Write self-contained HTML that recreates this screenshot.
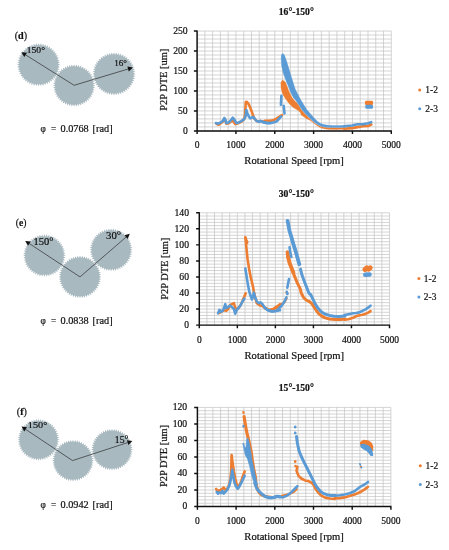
<!DOCTYPE html><html><head><meta charset="utf-8"><title>Figure</title><style>html,body{margin:0;padding:0;background:#fff}svg{display:block}text{stroke:#111;stroke-width:0.2px}</style></head><body><svg width="449" height="550" viewBox="0 0 449 550" font-family="'Liberation Serif', serif" fill="#111">
<rect width="449" height="550" fill="#fff"/>
<path d="M197.10 130.90H391.30M197.10 126.91H391.30M197.10 122.91H391.30M197.10 118.92H391.30M197.10 114.92H391.30M197.10 110.93H391.30M197.10 106.94H391.30M197.10 102.94H391.30M197.10 98.95H391.30M197.10 94.95H391.30M197.10 90.96H391.30M197.10 86.97H391.30M197.10 82.97H391.30M197.10 78.98H391.30M197.10 74.98H391.30M197.10 70.99H391.30M197.10 67.00H391.30M197.10 63.00H391.30M197.10 59.01H391.30M197.10 55.01H391.30M197.10 51.02H391.30M197.10 47.03H391.30M197.10 43.03H391.30M197.10 39.04H391.30M197.10 35.04H391.30M197.10 31.05H391.30M197.10 31.05V130.90M204.87 31.05V130.90M212.64 31.05V130.90M220.40 31.05V130.90M228.17 31.05V130.90M235.94 31.05V130.90M243.71 31.05V130.90M251.48 31.05V130.90M259.24 31.05V130.90M267.01 31.05V130.90M274.78 31.05V130.90M282.55 31.05V130.90M290.32 31.05V130.90M298.08 31.05V130.90M305.85 31.05V130.90M313.62 31.05V130.90M321.39 31.05V130.90M329.16 31.05V130.90M336.92 31.05V130.90M344.69 31.05V130.90M352.46 31.05V130.90M360.23 31.05V130.90M368.00 31.05V130.90M375.76 31.05V130.90M383.53 31.05V130.90M391.30 31.05V130.90" stroke="#c6c6c6" stroke-width="0.75" fill="none"/>
<path d="M199.30 325.10H389.50M199.30 321.89H389.50M199.30 318.68H389.50M199.30 315.47H389.50M199.30 312.27H389.50M199.30 309.06H389.50M199.30 305.85H389.50M199.30 302.64H389.50M199.30 299.43H389.50M199.30 296.22H389.50M199.30 293.01H389.50M199.30 289.81H389.50M199.30 286.60H389.50M199.30 283.39H389.50M199.30 280.18H389.50M199.30 276.97H389.50M199.30 273.76H389.50M199.30 270.55H389.50M199.30 267.35H389.50M199.30 264.14H389.50M199.30 260.93H389.50M199.30 257.72H389.50M199.30 254.51H389.50M199.30 251.30H389.50M199.30 248.09H389.50M199.30 244.89H389.50M199.30 241.68H389.50M199.30 238.47H389.50M199.30 235.26H389.50M199.30 232.05H389.50M199.30 228.84H389.50M199.30 225.63H389.50M199.30 222.43H389.50M199.30 219.22H389.50M199.30 216.01H389.50M199.30 212.80H389.50M199.30 212.80V325.10M206.91 212.80V325.10M214.52 212.80V325.10M222.12 212.80V325.10M229.73 212.80V325.10M237.34 212.80V325.10M244.95 212.80V325.10M252.56 212.80V325.10M260.16 212.80V325.10M267.77 212.80V325.10M275.38 212.80V325.10M282.99 212.80V325.10M290.60 212.80V325.10M298.20 212.80V325.10M305.81 212.80V325.10M313.42 212.80V325.10M321.03 212.80V325.10M328.64 212.80V325.10M336.24 212.80V325.10M343.85 212.80V325.10M351.46 212.80V325.10M359.07 212.80V325.10M366.68 212.80V325.10M374.28 212.80V325.10M381.89 212.80V325.10M389.50 212.80V325.10" stroke="#c6c6c6" stroke-width="0.75" fill="none"/>
<path d="M197.40 506.50H390.90M197.40 503.20H390.90M197.40 499.89H390.90M197.40 496.59H390.90M197.40 493.29H390.90M197.40 489.98H390.90M197.40 486.68H390.90M197.40 483.38H390.90M197.40 480.07H390.90M197.40 476.77H390.90M197.40 473.47H390.90M197.40 470.16H390.90M197.40 466.86H390.90M197.40 463.56H390.90M197.40 460.25H390.90M197.40 456.95H390.90M197.40 453.65H390.90M197.40 450.34H390.90M197.40 447.04H390.90M197.40 443.74H390.90M197.40 440.43H390.90M197.40 437.13H390.90M197.40 433.83H390.90M197.40 430.52H390.90M197.40 427.22H390.90M197.40 423.92H390.90M197.40 420.61H390.90M197.40 417.31H390.90M197.40 414.01H390.90M197.40 410.70H390.90M197.40 407.40H390.90M197.40 407.40V506.50M205.14 407.40V506.50M212.88 407.40V506.50M220.62 407.40V506.50M228.36 407.40V506.50M236.10 407.40V506.50M243.84 407.40V506.50M251.58 407.40V506.50M259.32 407.40V506.50M267.06 407.40V506.50M274.80 407.40V506.50M282.54 407.40V506.50M290.28 407.40V506.50M298.02 407.40V506.50M305.76 407.40V506.50M313.50 407.40V506.50M321.24 407.40V506.50M328.98 407.40V506.50M336.72 407.40V506.50M344.46 407.40V506.50M352.20 407.40V506.50M359.94 407.40V506.50M367.68 407.40V506.50M375.42 407.40V506.50M383.16 407.40V506.50M390.90 407.40V506.50" stroke="#c6c6c6" stroke-width="0.75" fill="none"/>
<!--DATA-->
<polyline points="216.7,124.1 218.7,124.7 220.7,123.3 222.7,121.7 224.3,118.8 225.4,120.7 226.3,123.7 228.7,123.3 230.7,121.5 232.7,120.4 234.1,122.4 235.4,124.1 236.7,123.7 238.7,123.1 241.4,121.7 244.1,119.3 245.0,115.1 245.4,108.4 245.8,102.0 246.8,101.7 248.1,103.3 249.2,105.4 250.1,107.3 251.2,110.0 252.1,112.6 253.4,116.4 254.8,119.1 256.8,121.1 258.8,121.7 260.8,121.1 263.5,121.5 266.1,121.2 270.0,121.1" fill="none" stroke="#ED7D31" stroke-width="2.60" stroke-linecap="round" stroke-linejoin="round"/>
<polyline points="264.9,120.8 269.8,120.9 273.1,120.3 276.4,118.6 279.6,116.7 282.1,115.0" fill="none" stroke="#ED7D31" stroke-width="2.60" stroke-linecap="round" stroke-linejoin="round"/>
<polygon points="282.3,79.9 280.8,82.8 281.1,88.6 282.3,93.0 283.7,95.9 286.6,100.3 289.5,103.9 293.2,107.5 298.3,110.6 300.6,112.8 301.1,115.0 303.9,116.7 306.1,118.4 309.5,120.1 312.8,122.3 316.2,125.1 319.5,127.3 322.8,128.4 327.3,129.2 334.0,129.5 345.0,129.3 344.6,127.5 339.1,127.8 331.3,127.8 325.8,127.5 321.3,126.7 318.0,125.3 314.6,123.0 311.3,120.3 308.0,116.9 304.6,113.6 301.3,109.7 297.9,104.1 293.9,99.9 292.1,97.8 289.2,91.9 287.0,86.1 285.2,81.8" fill="#ED7D31" stroke="#ED7D31" stroke-width="0.30" stroke-linejoin="round"/>
<polyline points="344.1,128.7 352.1,128.1 357.4,127.1 362.8,126.3 368.1,126.0 371.3,124.6" fill="none" stroke="#ED7D31" stroke-width="2.60" stroke-linecap="round" stroke-linejoin="round"/>
<rect x="365" y="100.7" width="8" height="4.3" rx="1.3" fill="#ED7D31"/>
<polyline points="216.0,123.1 218.0,123.7 220.7,122.4 222.7,121.1 224.3,118.0 225.4,119.7 226.3,123.1 228.7,122.4 230.7,120.4 232.7,117.7 234.1,119.1 235.4,121.7 236.7,123.1 238.7,122.4 241.4,121.1 244.1,119.1 245.4,117.1 246.1,112.4 246.4,110.0 247.2,113.0 248.8,116.4 250.1,118.4 252.1,117.5 253.4,117.1 254.8,119.1 256.8,121.1 258.8,121.7 260.8,121.1 263.5,122.4 266.1,123.1 270.0,123.3" fill="none" stroke="#5B9BD5" stroke-width="2.60" stroke-linecap="round" stroke-linejoin="round"/>
<polyline points="260.0,121.1 263.3,121.9 266.5,122.7 271.5,122.9 276.4,121.6 278.8,119.0 281.3,116.4" fill="none" stroke="#5B9BD5" stroke-width="2.60" stroke-linecap="round" stroke-linejoin="round"/>
<polyline points="281.4,95.7 280.9,104.7" fill="none" stroke="#5B9BD5" stroke-width="2.60" stroke-linecap="round" stroke-linejoin="round"/>
<polyline points="283.7,105.9 284.5,113.4" fill="none" stroke="#5B9BD5" stroke-width="2.60" stroke-linecap="round" stroke-linejoin="round"/>
<polygon points="283.0,53.4 284.5,55.2 286.6,61.0 288.8,68.3 291.0,75.5 293.2,82.8 295.4,89.4 300.6,99.5 303.9,105.0 307.2,110.0 310.6,113.9 313.9,117.8 317.3,121.2 320.6,123.4 324.0,124.5 328.4,125.3 334.0,125.6 339.5,125.6 345.0,125.3 345.0,127.3 339.5,127.6 331.7,127.6 326.2,127.3 321.7,126.5 318.4,125.1 315.0,122.8 311.7,120.1 308.4,116.7 305.0,113.4 301.7,109.5 298.3,103.9 295.0,99.5 293.2,97.4 290.3,91.5 288.1,85.7 286.3,81.4 284.9,77.7 283.0,72.6 281.5,65.4 281.1,58.1 281.5,54.5" fill="#5B9BD5" stroke="#5B9BD5" stroke-width="0.30" stroke-linejoin="round"/>
<polyline points="344.1,126.3 352.1,125.5 357.4,124.2 362.8,124.2 368.1,123.3 371.2,122.2" fill="none" stroke="#5B9BD5" stroke-width="2.60" stroke-linecap="round" stroke-linejoin="round"/>
<rect x="365.3" y="104.7" width="7.7" height="4" rx="1.3" fill="#5B9BD5"/>
<polyline points="218.6,313.2 221.5,311.8 223.7,309.9 226.2,310.9 228.1,309.0 230.0,305.2 231.9,304.2 233.9,303.2 234.8,306.1 235.8,309.0 237.7,309.0 240.5,305.2 242.4,301.3 244.4,296.6 245.7,293.3" fill="none" stroke="#ED7D31" stroke-width="2.60" stroke-linecap="round" stroke-linejoin="round"/>
<polyline points="245.3,237.4 246.3,240.3 247.2,242.6" fill="none" stroke="#ED7D31" stroke-width="2.80" stroke-linecap="round" stroke-linejoin="round"/>
<polyline points="245.5,238.0 246.6,249.8 247.6,259.4 249.1,268.9 251.0,278.4 252.9,286.1 253.9,291.8 255.4,298.5 256.8,303.2 259.6,305.2 262.5,306.1 265.3,308.6 269.2,309.9 273.0,309.0 276.8,306.7 280.0,304.2" fill="none" stroke="#ED7D31" stroke-width="2.60" stroke-linecap="round" stroke-linejoin="round"/>
<polyline points="265.0,307.5 269.4,310.4 273.7,309.3 277.0,307.1 279.2,306.0 282.5,303.8 284.6,301.6 286.4,298.4" fill="none" stroke="#ED7D31" stroke-width="2.60" stroke-linecap="round" stroke-linejoin="round"/>
<polyline points="286.8,292.5 287.0,293.4" fill="none" stroke="#ED7D31" stroke-width="2.60" stroke-linecap="round" stroke-linejoin="round"/>
<polyline points="287.3,252.1 288.0,257.2 289.5,263.0 291.3,268.1 293.1,272.5 294.5,276.1 297.5,283.4 300.4,289.2 301.1,292.8 303.4,297.2 306.1,300.0 309.5,301.7 311.7,303.4 313.4,306.2 315.6,309.5 318.4,313.4 321.7,316.2 325.1,317.9 329.5,319.0 335.1,319.5 340.7,319.5 345.0,319.0" fill="none" stroke="#ED7D31" stroke-width="3.00" stroke-linecap="round" stroke-linejoin="round"/>
<polyline points="287.6,252.5 288.1,257.2 289.6,263.0 291.6,268.1 293.4,272.5" fill="none" stroke="#ED7D31" stroke-width="3.80" stroke-linecap="round" stroke-linejoin="round"/>
<polyline points="344.5,319.7 348.4,319.2 352.3,318.1 355.4,316.6 358.5,315.5 362.4,314.7 365.5,313.9 368.7,312.4 370.5,311.1" fill="none" stroke="#ED7D31" stroke-width="2.60" stroke-linecap="round" stroke-linejoin="round"/>
<polyline points="364.9,269.5 366.8,267.9 368.7,269.2 370.2,267.8" fill="none" stroke="#ED7D31" stroke-width="5.00" stroke-linecap="round" stroke-linejoin="round"/>
<polyline points="218.0,313.2 219.5,309.9 221.1,311.8 222.4,310.9 223.7,309.0 225.3,304.2 226.2,308.0 228.1,307.1 230.0,305.5 231.9,307.1 233.9,309.0 235.2,313.7 236.7,309.9 238.6,308.0 240.5,305.5 242.4,301.7 244.4,298.5" fill="none" stroke="#5B9BD5" stroke-width="2.60" stroke-linecap="round" stroke-linejoin="round"/>
<polyline points="245.3,268.5 246.3,274.6 247.2,280.3 248.2,286.1 249.1,290.8 250.5,295.6 252.0,299.4 252.9,296.6 253.9,292.7 254.8,296.6 256.8,301.3 258.7,303.2 260.6,302.3 262.5,304.2 264.4,307.1 267.3,309.9 271.1,311.3 274.9,311.3 280.0,310.3" fill="none" stroke="#5B9BD5" stroke-width="2.60" stroke-linecap="round" stroke-linejoin="round"/>
<polyline points="265.0,308.2 268.3,310.4 272.6,311.5 277.0,310.4 281.4,306.0 284.6,301.6 286.4,297.3" fill="none" stroke="#5B9BD5" stroke-width="2.60" stroke-linecap="round" stroke-linejoin="round"/>
<polyline points="286.8,291.8 287.5,294.0" fill="none" stroke="#5B9BD5" stroke-width="2.60" stroke-linecap="round" stroke-linejoin="round"/>
<polyline points="289.0,279.0 288.1,283.4 287.3,287.7" fill="none" stroke="#5B9BD5" stroke-width="2.60" stroke-linecap="round" stroke-linejoin="round"/>
<polyline points="289.6,247.3 290.2,252.1 291.3,256.9" fill="none" stroke="#5B9BD5" stroke-width="2.60" stroke-linecap="round" stroke-linejoin="round"/>
<polyline points="287.6,220.8 288.4,225.2 289.5,231.0 291.3,236.8 293.4,244.1 295.7,251.4 297.7,258.6 299.3,264.2" fill="none" stroke="#5B9BD5" stroke-width="3.80" stroke-linecap="round" stroke-linejoin="round"/>
<polyline points="300.5,269.1 301.8,274.6 304.0,280.5 306.2,286.3 309.1,293.5 310.6,294.5 312.8,298.9 315.0,303.4 317.3,307.3 320.1,310.6 322.8,312.8 326.2,314.5 329.5,315.4 334.0,316.2 339.5,316.4 345.0,316.0" fill="none" stroke="#5B9BD5" stroke-width="3.00" stroke-linecap="round" stroke-linejoin="round"/>
<polyline points="344.5,315.0 348.4,314.2 353.1,313.2 356.2,313.0 359.3,312.4 362.4,310.8 365.5,309.3 368.7,307.2 370.5,305.7" fill="none" stroke="#5B9BD5" stroke-width="2.60" stroke-linecap="round" stroke-linejoin="round"/>
<polyline points="365.2,274.8 369.6,274.5" fill="none" stroke="#5B9BD5" stroke-width="4.40" stroke-linecap="round" stroke-linejoin="round"/>
<polyline points="216.1,489.0 217.6,490.9 220.5,489.9 222.4,489.0 223.7,487.4 225.3,489.9 227.2,489.0 229.1,484.8 230.4,479.0 231.2,470.8 231.6,455.0 232.5,462.3 233.9,471.8 235.2,478.5 236.7,484.2 238.2,488.0 239.6,485.2 241.5,480.4 243.4,474.7 244.7,471.4" fill="none" stroke="#ED7D31" stroke-width="2.60" stroke-linecap="round" stroke-linejoin="round"/>
<polyline points="243.4,412.3 243.5,412.9" fill="none" stroke="#ED7D31" stroke-width="2.40" stroke-linecap="round" stroke-linejoin="round"/>
<polyline points="244.1,416.6 245.0,422.5 246.0,428.3 247.2,434.1 248.3,438.5 249.6,444.3 251.1,451.5 252.3,460.3 253.7,469.0 255.5,477.7 255.8,484.2 257.7,489.9 259.6,492.8 261.5,494.7 264.4,496.2" fill="none" stroke="#ED7D31" stroke-width="3.20" stroke-linecap="round" stroke-linejoin="round"/>
<polyline points="265.0,496.2 272.6,497.4 281.2,496.2 286.0,495.1 289.8,493.7 293.6,491.8 296.5,489.0" fill="none" stroke="#ED7D31" stroke-width="2.60" stroke-linecap="round" stroke-linejoin="round"/>
<polyline points="295.2,461.3 295.2,461.7" fill="none" stroke="#ED7D31" stroke-width="2.60" stroke-linecap="round" stroke-linejoin="round"/>
<polyline points="295.5,466.1 297.4,467.0 296.5,470.8 298.4,475.6 301.3,478.5 305.1,480.4 308.9,481.3 311.8,482.9 313.7,485.2 315.6,489.0 318.4,492.8 321.3,495.6 325.1,497.6 329.9,498.5 335.0,498.9" fill="none" stroke="#ED7D31" stroke-width="2.60" stroke-linecap="round" stroke-linejoin="round"/>
<polyline points="334.8,498.2 339.7,498.1 344.6,497.4 349.5,496.1 354.5,494.5 357.7,493.2 361.0,491.7 364.3,489.6 366.7,487.9 368.0,486.8" fill="none" stroke="#ED7D31" stroke-width="2.60" stroke-linecap="round" stroke-linejoin="round"/>
<polygon points="360.7,442.6 363.5,440.6 367.6,440.9 370.8,442.9 372.5,446.2 372.5,450.3 369.2,447.0 364.3,445.4 361.0,445.4" fill="#ED7D31" stroke="#ED7D31" stroke-width="1.50" stroke-linejoin="round"/>
<polyline points="361.0,466.6 361.2,467.0" fill="none" stroke="#ED7D31" stroke-width="1.80" stroke-linecap="round" stroke-linejoin="round"/>
<polyline points="216.7,491.8 218.0,493.7 219.5,492.4 221.1,493.2 222.4,490.9 223.7,493.7 225.3,491.8 227.2,489.9 229.1,486.1 230.6,480.4 231.6,474.7 232.3,469.9 233.3,476.6 234.4,482.3 235.8,486.1 237.7,488.6 239.6,486.1 241.5,482.3 243.4,478.5 244.7,475.6" fill="none" stroke="#5B9BD5" stroke-width="2.60" stroke-linecap="round" stroke-linejoin="round"/>
<polyline points="243.4,426.1 243.5,426.4" fill="none" stroke="#5B9BD5" stroke-width="2.40" stroke-linecap="round" stroke-linejoin="round"/>
<polygon points="242.8,443.5 243.8,448.6 245.3,455.2 247.5,459.1 249.6,466.1 251.5,474.8 253.3,480.6 254.7,485.0 257.6,485.0 255.9,477.7 254.0,469.0 252.1,460.3 250.8,451.5 249.3,442.8 248.0,438.2 246.7,438.7 246.3,442.8 246.0,447.9 244.5,446.5 243.8,443.1" fill="#5B9BD5" stroke="#5B9BD5" stroke-width="0.60" stroke-linejoin="round"/>
<polyline points="254.8,483.2 255.8,486.1 257.1,489.0 259.0,491.3 261.0,493.2 263.8,495.6 266.7,497.2 270.5,497.9 274.3,497.6 277.2,496.2 280.0,496.6" fill="none" stroke="#5B9BD5" stroke-width="3.00" stroke-linecap="round" stroke-linejoin="round"/>
<polyline points="265.0,496.2 268.8,497.2 272.6,497.4 276.5,496.2 279.3,497.2 283.1,497.2 286.9,495.6 290.8,492.8 294.6,489.0 297.4,486.1" fill="none" stroke="#5B9BD5" stroke-width="2.60" stroke-linecap="round" stroke-linejoin="round"/>
<polyline points="295.2,426.9 295.2,427.3" fill="none" stroke="#5B9BD5" stroke-width="2.60" stroke-linecap="round" stroke-linejoin="round"/>
<polyline points="295.2,432.7 295.3,433.1" fill="none" stroke="#5B9BD5" stroke-width="2.60" stroke-linecap="round" stroke-linejoin="round"/>
<polyline points="296.5,436.5 297.4,443.2 299.0,450.8 301.3,456.5 304.1,462.3 307.0,468.0 309.8,473.7 312.7,479.4 315.0,484.2 317.5,488.0 320.3,491.3 323.2,493.4 327.0,494.7 330.8,495.5 335.0,495.6" fill="none" stroke="#5B9BD5" stroke-width="3.00" stroke-linecap="round" stroke-linejoin="round"/>
<polyline points="334.8,495.6 339.7,495.3 344.6,494.5 349.5,493.3 354.5,491.2 357.7,488.7 361.0,486.3 364.3,484.6 366.7,483.0 368.0,481.9" fill="none" stroke="#5B9BD5" stroke-width="2.60" stroke-linecap="round" stroke-linejoin="round"/>
<polygon points="361.0,444.9 363.5,444.5 366.7,445.4 369.2,447.0 371.6,450.3 372.5,455.2 370.8,455.2 369.2,452.7 366.7,450.3 363.5,448.6 361.3,447.0" fill="#5B9BD5" stroke="#5B9BD5" stroke-width="1.50" stroke-linejoin="round"/>
<polyline points="359.9,463.9 360.4,465.0" fill="none" stroke="#5B9BD5" stroke-width="1.80" stroke-linecap="round" stroke-linejoin="round"/>
<polyline points="361.3,467.5 361.4,467.7" fill="none" stroke="#5B9BD5" stroke-width="1.80" stroke-linecap="round" stroke-linejoin="round"/>
<path d="M197.10 30.45V131.50M196.50 130.90H391.90M193.90 130.90H197.10M193.90 110.93H197.10M193.90 90.96H197.10M193.90 70.99H197.10M193.90 51.02H197.10M193.90 31.05H197.10M197.10 130.90V134.10M235.94 130.90V134.10M274.78 130.90V134.10M313.62 130.90V134.10M352.46 130.90V134.10M391.30 130.90V134.10" stroke="#111" stroke-width="1.45" fill="none"/>
<text x="187.7" y="134.0" font-size="9.50" text-anchor="end" font-weight="normal">0</text>
<text x="187.7" y="114.0" font-size="9.50" text-anchor="end" font-weight="normal" textLength="9.7" lengthAdjust="spacingAndGlyphs">50</text>
<text x="187.7" y="94.1" font-size="9.50" text-anchor="end" font-weight="normal" textLength="14.5" lengthAdjust="spacingAndGlyphs">100</text>
<text x="187.7" y="74.1" font-size="9.50" text-anchor="end" font-weight="normal" textLength="14.5" lengthAdjust="spacingAndGlyphs">150</text>
<text x="187.7" y="54.1" font-size="9.50" text-anchor="end" font-weight="normal" textLength="14.5" lengthAdjust="spacingAndGlyphs">200</text>
<text x="187.7" y="34.1" font-size="9.50" text-anchor="end" font-weight="normal" textLength="14.5" lengthAdjust="spacingAndGlyphs">250</text>
<text x="197.1" y="148.1" font-size="9.50" text-anchor="middle" font-weight="normal">0</text>
<text x="235.9" y="148.1" font-size="9.50" text-anchor="middle" font-weight="normal" textLength="19.1" lengthAdjust="spacingAndGlyphs">1000</text>
<text x="274.8" y="148.1" font-size="9.50" text-anchor="middle" font-weight="normal" textLength="19.1" lengthAdjust="spacingAndGlyphs">2000</text>
<text x="313.6" y="148.1" font-size="9.50" text-anchor="middle" font-weight="normal" textLength="19.1" lengthAdjust="spacingAndGlyphs">3000</text>
<text x="352.5" y="148.1" font-size="9.50" text-anchor="middle" font-weight="normal" textLength="19.1" lengthAdjust="spacingAndGlyphs">4000</text>
<text x="391.3" y="148.1" font-size="9.50" text-anchor="middle" font-weight="normal" textLength="19.1" lengthAdjust="spacingAndGlyphs">5000</text>
<text x="294.1" y="164.0" font-size="9.50" text-anchor="middle" font-weight="normal" textLength="99.5" lengthAdjust="spacingAndGlyphs">Rotational Speed [rpm]</text>
<text transform="translate(167.1 79.8) rotate(-90)" font-size="9.5" text-anchor="middle" textLength="62" lengthAdjust="spacingAndGlyphs">P2P DTE [um]</text>
<text x="296.3" y="15.3" font-size="9.60" text-anchor="middle" font-weight="bold" textLength="35.0" lengthAdjust="spacingAndGlyphs">16°-150°</text>
<circle cx="419.7" cy="90.0" r="1.5" fill="#ED7D31"/>
<circle cx="419.7" cy="108.7" r="1.5" fill="#5B9BD5"/>
<text x="425.3" y="93.1" font-size="9.50" text-anchor="start" font-weight="normal" textLength="12.6" lengthAdjust="spacingAndGlyphs">1-2</text>
<text x="425.3" y="111.8" font-size="9.50" text-anchor="start" font-weight="normal" textLength="12.6" lengthAdjust="spacingAndGlyphs">2-3</text>
<path d="M199.30 212.20V325.70M198.70 325.10H390.10M196.10 325.10H199.30M196.10 309.06H199.30M196.10 293.01H199.30M196.10 276.97H199.30M196.10 260.93H199.30M196.10 244.89H199.30M196.10 228.84H199.30M196.10 212.80H199.30M199.30 325.10V328.30M237.34 325.10V328.30M275.38 325.10V328.30M313.42 325.10V328.30M351.46 325.10V328.30M389.50 325.10V328.30" stroke="#111" stroke-width="1.45" fill="none"/>
<text x="189.0" y="328.2" font-size="9.50" text-anchor="end" font-weight="normal">0</text>
<text x="189.0" y="312.2" font-size="9.50" text-anchor="end" font-weight="normal" textLength="9.7" lengthAdjust="spacingAndGlyphs">20</text>
<text x="189.0" y="296.1" font-size="9.50" text-anchor="end" font-weight="normal" textLength="9.7" lengthAdjust="spacingAndGlyphs">40</text>
<text x="189.0" y="280.1" font-size="9.50" text-anchor="end" font-weight="normal" textLength="9.7" lengthAdjust="spacingAndGlyphs">60</text>
<text x="189.0" y="264.0" font-size="9.50" text-anchor="end" font-weight="normal" textLength="9.7" lengthAdjust="spacingAndGlyphs">80</text>
<text x="189.0" y="248.0" font-size="9.50" text-anchor="end" font-weight="normal" textLength="14.5" lengthAdjust="spacingAndGlyphs">100</text>
<text x="189.0" y="231.9" font-size="9.50" text-anchor="end" font-weight="normal" textLength="14.5" lengthAdjust="spacingAndGlyphs">120</text>
<text x="189.0" y="215.9" font-size="9.50" text-anchor="end" font-weight="normal" textLength="14.5" lengthAdjust="spacingAndGlyphs">140</text>
<text x="199.3" y="342.5" font-size="9.50" text-anchor="middle" font-weight="normal">0</text>
<text x="237.3" y="342.5" font-size="9.50" text-anchor="middle" font-weight="normal" textLength="19.1" lengthAdjust="spacingAndGlyphs">1000</text>
<text x="275.4" y="342.5" font-size="9.50" text-anchor="middle" font-weight="normal" textLength="19.1" lengthAdjust="spacingAndGlyphs">2000</text>
<text x="313.4" y="342.5" font-size="9.50" text-anchor="middle" font-weight="normal" textLength="19.1" lengthAdjust="spacingAndGlyphs">3000</text>
<text x="351.5" y="342.5" font-size="9.50" text-anchor="middle" font-weight="normal" textLength="19.1" lengthAdjust="spacingAndGlyphs">4000</text>
<text x="389.5" y="342.5" font-size="9.50" text-anchor="middle" font-weight="normal" textLength="19.1" lengthAdjust="spacingAndGlyphs">5000</text>
<text x="294.3" y="358.8" font-size="9.50" text-anchor="middle" font-weight="normal" textLength="99.5" lengthAdjust="spacingAndGlyphs">Rotational Speed [rpm]</text>
<text transform="translate(168.3 268.8) rotate(-90)" font-size="9.5" text-anchor="middle" textLength="62" lengthAdjust="spacingAndGlyphs">P2P DTE [um]</text>
<text x="296.3" y="197.0" font-size="9.60" text-anchor="middle" font-weight="bold" textLength="35.0" lengthAdjust="spacingAndGlyphs">30°-150°</text>
<circle cx="418.9" cy="278.6" r="1.5" fill="#ED7D31"/>
<circle cx="418.9" cy="297.0" r="1.5" fill="#5B9BD5"/>
<text x="423.8" y="281.7" font-size="9.50" text-anchor="start" font-weight="normal" textLength="12.6" lengthAdjust="spacingAndGlyphs">1-2</text>
<text x="423.8" y="300.1" font-size="9.50" text-anchor="start" font-weight="normal" textLength="12.6" lengthAdjust="spacingAndGlyphs">2-3</text>
<path d="M197.40 406.80V507.10M196.80 506.50H391.50M194.20 506.50H197.40M194.20 489.98H197.40M194.20 473.47H197.40M194.20 456.95H197.40M194.20 440.43H197.40M194.20 423.92H197.40M194.20 407.40H197.40M197.40 506.50V509.70M236.10 506.50V509.70M274.80 506.50V509.70M313.50 506.50V509.70M352.20 506.50V509.70M390.90 506.50V509.70" stroke="#111" stroke-width="1.45" fill="none"/>
<text x="187.2" y="509.2" font-size="9.50" text-anchor="end" font-weight="normal">0</text>
<text x="187.2" y="492.7" font-size="9.50" text-anchor="end" font-weight="normal" textLength="9.7" lengthAdjust="spacingAndGlyphs">20</text>
<text x="187.2" y="476.2" font-size="9.50" text-anchor="end" font-weight="normal" textLength="9.7" lengthAdjust="spacingAndGlyphs">40</text>
<text x="187.2" y="459.7" font-size="9.50" text-anchor="end" font-weight="normal" textLength="9.7" lengthAdjust="spacingAndGlyphs">60</text>
<text x="187.2" y="443.1" font-size="9.50" text-anchor="end" font-weight="normal" textLength="9.7" lengthAdjust="spacingAndGlyphs">80</text>
<text x="187.2" y="426.6" font-size="9.50" text-anchor="end" font-weight="normal" textLength="14.5" lengthAdjust="spacingAndGlyphs">100</text>
<text x="187.2" y="410.1" font-size="9.50" text-anchor="end" font-weight="normal" textLength="14.5" lengthAdjust="spacingAndGlyphs">120</text>
<text x="197.4" y="524.2" font-size="9.50" text-anchor="middle" font-weight="normal">0</text>
<text x="236.1" y="524.2" font-size="9.50" text-anchor="middle" font-weight="normal" textLength="19.1" lengthAdjust="spacingAndGlyphs">1000</text>
<text x="274.8" y="524.2" font-size="9.50" text-anchor="middle" font-weight="normal" textLength="19.1" lengthAdjust="spacingAndGlyphs">2000</text>
<text x="313.5" y="524.2" font-size="9.50" text-anchor="middle" font-weight="normal" textLength="19.1" lengthAdjust="spacingAndGlyphs">3000</text>
<text x="352.2" y="524.2" font-size="9.50" text-anchor="middle" font-weight="normal" textLength="19.1" lengthAdjust="spacingAndGlyphs">4000</text>
<text x="390.9" y="524.2" font-size="9.50" text-anchor="middle" font-weight="normal" textLength="19.1" lengthAdjust="spacingAndGlyphs">5000</text>
<text x="294.1" y="539.5" font-size="9.50" text-anchor="middle" font-weight="normal" textLength="99.5" lengthAdjust="spacingAndGlyphs">Rotational Speed [rpm]</text>
<text transform="translate(167.1 456.0) rotate(-90)" font-size="9.5" text-anchor="middle" textLength="62" lengthAdjust="spacingAndGlyphs">P2P DTE [um]</text>
<text x="296.3" y="391.4" font-size="9.60" text-anchor="middle" font-weight="bold" textLength="35.0" lengthAdjust="spacingAndGlyphs">15°-150°</text>
<circle cx="420.3" cy="465.8" r="1.5" fill="#ED7D31"/>
<circle cx="420.3" cy="484.5" r="1.5" fill="#5B9BD5"/>
<text x="425.6" y="468.9" font-size="9.50" text-anchor="start" font-weight="normal" textLength="12.6" lengthAdjust="spacingAndGlyphs">1-2</text>
<text x="425.6" y="487.6" font-size="9.50" text-anchor="start" font-weight="normal" textLength="12.6" lengthAdjust="spacingAndGlyphs">2-3</text>
<polygon points="60.10,64.70 57.77,65.78 59.96,67.11 57.53,67.92 59.56,69.48 57.05,70.02 58.89,71.80 56.34,72.05 57.97,74.03 55.40,73.99 56.80,76.14 54.26,75.81 55.41,78.11 52.92,77.49 53.80,79.90 51.39,79.02 52.01,81.51 49.71,80.36 50.04,82.90 47.89,81.50 47.93,84.07 45.95,82.44 45.70,84.99 43.92,83.15 43.38,85.66 41.82,83.63 41.01,86.06 39.68,83.87 38.60,86.20 37.52,83.87 36.19,86.06 35.38,83.63 33.82,85.66 33.28,83.15 31.50,84.99 31.25,82.44 29.27,84.07 29.31,81.50 27.16,82.90 27.49,80.36 25.19,81.51 25.81,79.02 23.40,79.90 24.28,77.49 21.79,78.11 22.94,75.81 20.40,76.14 21.80,73.99 19.23,74.03 20.86,72.05 18.31,71.80 20.15,70.02 17.64,69.48 19.67,67.92 17.24,67.11 19.43,65.78 17.10,64.70 19.43,63.62 17.24,62.29 19.67,61.48 17.64,59.92 20.15,59.38 18.31,57.60 20.86,57.35 19.23,55.37 21.80,55.41 20.40,53.26 22.94,53.59 21.79,51.29 24.28,51.91 23.40,49.50 25.81,50.38 25.19,47.89 27.49,49.04 27.16,46.50 29.31,47.90 29.27,45.33 31.25,46.96 31.50,44.41 33.28,46.25 33.82,43.74 35.38,45.77 36.19,43.34 37.52,45.53 38.60,43.20 39.68,45.53 41.01,43.34 41.82,45.77 43.38,43.74 43.92,46.25 45.70,44.41 45.95,46.96 47.93,45.33 47.89,47.90 50.04,46.50 49.71,49.04 52.01,47.89 51.39,50.38 53.80,49.50 52.92,51.91 55.41,51.29 54.26,53.59 56.80,53.26 55.40,55.41 57.97,55.37 56.34,57.35 58.89,57.60 57.05,59.38 59.56,59.92 57.53,61.48 59.96,62.29 57.77,63.62" fill="#a9b9c0"/>
<polygon points="95.20,85.50 92.87,86.55 95.07,87.86 92.63,88.65 94.67,90.20 92.17,90.70 94.02,92.47 91.47,92.69 93.11,94.65 90.55,94.59 91.97,96.73 89.43,96.38 90.60,98.66 88.12,98.03 89.02,100.42 86.63,99.52 87.26,102.00 84.98,100.83 85.33,103.37 83.19,101.95 83.25,104.51 81.29,102.87 81.07,105.42 79.30,103.57 78.80,106.07 77.25,104.03 76.46,106.47 75.15,104.27 74.10,106.60 73.05,104.27 71.74,106.47 70.95,104.03 69.40,106.07 68.90,103.57 67.13,105.42 66.91,102.87 64.95,104.51 65.01,101.95 62.87,103.37 63.22,100.83 60.94,102.00 61.57,99.52 59.18,100.42 60.08,98.03 57.60,98.66 58.77,96.38 56.23,96.73 57.65,94.59 55.09,94.65 56.73,92.69 54.18,92.47 56.03,90.70 53.53,90.20 55.57,88.65 53.13,87.86 55.33,86.55 53.00,85.50 55.33,84.45 53.13,83.14 55.57,82.35 53.53,80.80 56.03,80.30 54.18,78.53 56.73,78.31 55.09,76.35 57.65,76.41 56.23,74.27 58.77,74.62 57.60,72.34 60.08,72.97 59.18,70.58 61.57,71.48 60.94,69.00 63.22,70.17 62.87,67.63 65.01,69.05 64.95,66.49 66.91,68.13 67.13,65.58 68.90,67.43 69.40,64.93 70.95,66.97 71.74,64.53 73.05,66.73 74.10,64.40 75.15,66.73 76.46,64.53 77.25,66.97 78.80,64.93 79.30,67.43 81.07,65.58 81.29,68.13 83.25,66.49 83.19,69.05 85.33,67.63 84.98,70.17 87.26,69.00 86.63,71.48 89.02,70.58 88.12,72.97 90.60,72.34 89.43,74.62 91.97,74.27 90.55,76.41 93.11,76.35 91.47,78.31 94.02,78.53 92.17,80.30 94.67,80.80 92.63,82.35 95.07,83.14 92.87,84.45" fill="#a9b9c0"/>
<polygon points="135.50,73.90 133.17,74.98 135.36,76.31 132.93,77.12 134.96,78.68 132.45,79.22 134.29,81.00 131.74,81.25 133.37,83.23 130.80,83.19 132.20,85.34 129.66,85.01 130.81,87.31 128.32,86.69 129.20,89.10 126.79,88.22 127.41,90.71 125.11,89.56 125.44,92.10 123.29,90.70 123.33,93.27 121.35,91.64 121.10,94.19 119.32,92.35 118.78,94.86 117.22,92.83 116.41,95.26 115.08,93.07 114.00,95.40 112.92,93.07 111.59,95.26 110.78,92.83 109.22,94.86 108.68,92.35 106.90,94.19 106.65,91.64 104.67,93.27 104.71,90.70 102.56,92.10 102.89,89.56 100.59,90.71 101.21,88.22 98.80,89.10 99.68,86.69 97.19,87.31 98.34,85.01 95.80,85.34 97.20,83.19 94.63,83.23 96.26,81.25 93.71,81.00 95.55,79.22 93.04,78.68 95.07,77.12 92.64,76.31 94.83,74.98 92.50,73.90 94.83,72.82 92.64,71.49 95.07,70.68 93.04,69.12 95.55,68.58 93.71,66.80 96.26,66.55 94.63,64.57 97.20,64.61 95.80,62.46 98.34,62.79 97.19,60.49 99.68,61.11 98.80,58.70 101.21,59.58 100.59,57.09 102.89,58.24 102.56,55.70 104.71,57.10 104.67,54.53 106.65,56.16 106.90,53.61 108.68,55.45 109.22,52.94 110.78,54.97 111.59,52.54 112.92,54.73 114.00,52.40 115.08,54.73 116.41,52.54 117.22,54.97 118.78,52.94 119.32,55.45 121.10,53.61 121.35,56.16 123.33,54.53 123.29,57.10 125.44,55.70 125.11,58.24 127.41,57.09 126.79,59.58 129.20,58.70 128.32,61.11 130.81,60.49 129.66,62.79 132.20,62.46 130.80,64.61 133.37,64.57 131.74,66.55 134.29,66.80 132.45,68.58 134.96,69.12 132.93,70.68 135.36,71.49 133.17,72.82" fill="#a9b9c0"/>
<line x1="74.1" y1="85.3" x2="25.6" y2="54.9" stroke="#222" stroke-width="0.65"/>
<polygon points="21.4,52.2 27.0,52.7 24.3,57.0" fill="#111"/>
<line x1="74.1" y1="85.3" x2="128.1" y2="69.0" stroke="#222" stroke-width="0.65"/>
<polygon points="132.9,67.6 128.8,71.4 127.4,66.6" fill="#111"/>
<text x="14.7" y="39.4" font-size="10" textLength="12.4" lengthAdjust="spacingAndGlyphs">(<tspan font-weight="bold">d</tspan>)</text>
<text x="26.7" y="52.8" font-size="9.00" text-anchor="start" font-weight="normal" textLength="18.3" lengthAdjust="spacingAndGlyphs">150°</text>
<text x="114.2" y="66.4" font-size="9.00" text-anchor="start" font-weight="normal" textLength="12.8" lengthAdjust="spacingAndGlyphs">16°</text>
<text x="40.4" y="131.6" font-size="9.50" text-anchor="start" font-weight="normal" textLength="5.3" lengthAdjust="spacingAndGlyphs">φ</text>
<text x="51.0" y="131.6" font-size="9.50" text-anchor="start" font-weight="normal" textLength="5.2" lengthAdjust="spacingAndGlyphs">=</text>
<text x="60.5" y="131.6" font-size="9.50" text-anchor="start" font-weight="normal" textLength="28.2" lengthAdjust="spacingAndGlyphs">0.0768</text>
<text x="92.6" y="131.6" font-size="9.50" text-anchor="start" font-weight="normal" textLength="20.0" lengthAdjust="spacingAndGlyphs">[rad]</text>
<polygon points="65.60,255.50 63.27,256.56 65.47,257.87 63.03,258.67 65.07,260.22 62.56,260.73 64.41,262.50 61.86,262.73 63.50,264.70 60.94,264.64 62.35,266.78 59.81,266.44 60.97,268.72 58.49,268.09 59.39,270.49 56.99,269.59 57.62,272.07 55.34,270.91 55.68,273.45 53.54,272.04 53.60,274.60 51.63,272.96 51.40,275.51 49.63,273.66 49.12,276.17 47.57,274.13 46.77,276.57 45.46,274.37 44.40,276.70 43.34,274.37 42.03,276.57 41.23,274.13 39.68,276.17 39.17,273.66 37.40,275.51 37.17,272.96 35.20,274.60 35.26,272.04 33.12,273.45 33.46,270.91 31.18,272.07 31.81,269.59 29.41,270.49 30.31,268.09 27.83,268.72 28.99,266.44 26.45,266.78 27.86,264.64 25.30,264.70 26.94,262.73 24.39,262.50 26.24,260.73 23.73,260.22 25.77,258.67 23.33,257.87 25.53,256.56 23.20,255.50 25.53,254.44 23.33,253.13 25.77,252.33 23.73,250.78 26.24,250.27 24.39,248.50 26.94,248.27 25.30,246.30 27.86,246.36 26.45,244.22 28.99,244.56 27.83,242.28 30.31,242.91 29.41,240.51 31.81,241.41 31.18,238.93 33.46,240.09 33.12,237.55 35.26,238.96 35.20,236.40 37.17,238.04 37.40,235.49 39.17,237.34 39.68,234.83 41.23,236.87 42.03,234.43 43.34,236.63 44.40,234.30 45.46,236.63 46.77,234.43 47.57,236.87 49.12,234.83 49.63,237.34 51.40,235.49 51.63,238.04 53.60,236.40 53.54,238.96 55.68,237.55 55.34,240.09 57.62,238.93 56.99,241.41 59.39,240.51 58.49,242.91 60.97,242.28 59.81,244.56 62.35,244.22 60.94,246.36 63.50,246.30 61.86,248.27 64.41,248.50 62.56,250.27 65.07,250.78 63.03,252.33 65.47,253.13 63.27,254.44" fill="#a9b9c0"/>
<polygon points="101.30,276.90 98.97,277.97 101.17,279.28 98.73,280.08 100.77,281.64 98.26,282.16 100.10,283.93 97.55,284.17 99.19,286.14 96.63,286.09 98.04,288.23 95.50,287.89 96.65,290.18 94.17,289.56 95.06,291.96 92.66,291.07 93.28,293.55 90.99,292.40 91.33,294.94 89.19,293.53 89.24,296.09 87.27,294.45 87.03,297.00 85.26,295.16 84.74,297.67 83.18,295.63 82.38,298.07 81.07,295.87 80.00,298.20 78.93,295.87 77.62,298.07 76.82,295.63 75.26,297.67 74.74,295.16 72.97,297.00 72.73,294.45 70.76,296.09 70.81,293.53 68.67,294.94 69.01,292.40 66.72,293.55 67.34,291.07 64.94,291.96 65.83,289.56 63.35,290.18 64.50,287.89 61.96,288.23 63.37,286.09 60.81,286.14 62.45,284.17 59.90,283.93 61.74,282.16 59.23,281.64 61.27,280.08 58.83,279.28 61.03,277.97 58.70,276.90 61.03,275.83 58.83,274.52 61.27,273.72 59.23,272.16 61.74,271.64 59.90,269.87 62.45,269.63 60.81,267.66 63.37,267.71 61.96,265.57 64.50,265.91 63.35,263.62 65.83,264.24 64.94,261.84 67.34,262.73 66.72,260.25 69.01,261.40 68.67,258.86 70.81,260.27 70.76,257.71 72.73,259.35 72.97,256.80 74.74,258.64 75.26,256.13 76.82,258.17 77.62,255.73 78.93,257.93 80.00,255.60 81.07,257.93 82.38,255.73 83.18,258.17 84.74,256.13 85.26,258.64 87.03,256.80 87.27,259.35 89.24,257.71 89.19,260.27 91.33,258.86 90.99,261.40 93.28,260.25 92.66,262.73 95.06,261.84 94.17,264.24 96.65,263.62 95.50,265.91 98.04,265.57 96.63,267.71 99.19,267.66 97.55,269.63 100.10,269.87 98.26,271.64 100.77,272.16 98.73,273.72 101.17,274.52 98.97,275.83" fill="#a9b9c0"/>
<polygon points="132.50,249.80 130.17,250.87 132.37,252.20 129.93,253.00 131.96,254.56 129.45,255.09 131.30,256.87 128.75,257.11 130.38,259.09 127.82,259.04 129.22,261.19 126.68,260.85 127.83,263.14 125.34,262.53 126.23,264.93 123.83,264.04 124.44,266.53 122.15,265.38 122.49,267.92 120.34,266.52 120.39,269.08 118.41,267.45 118.17,270.00 116.39,268.15 115.86,270.66 114.30,268.63 113.50,271.07 112.17,268.87 111.10,271.20 110.03,268.87 108.70,271.07 107.90,268.63 106.34,270.66 105.81,268.15 104.03,270.00 103.79,267.45 101.81,269.08 101.86,266.52 99.71,267.92 100.05,265.38 97.76,266.53 98.37,264.04 95.97,264.93 96.86,262.53 94.37,263.14 95.52,260.85 92.98,261.19 94.38,259.04 91.82,259.09 93.45,257.11 90.90,256.87 92.75,255.09 90.24,254.56 92.27,253.00 89.83,252.20 92.03,250.87 89.70,249.80 92.03,248.73 89.83,247.40 92.27,246.60 90.24,245.04 92.75,244.51 90.90,242.73 93.45,242.49 91.82,240.51 94.38,240.56 92.98,238.41 95.52,238.75 94.37,236.46 96.86,237.07 95.97,234.67 98.37,235.56 97.76,233.07 100.05,234.22 99.71,231.68 101.86,233.08 101.81,230.52 103.79,232.15 104.03,229.60 105.81,231.45 106.34,228.94 107.90,230.97 108.70,228.53 110.03,230.73 111.10,228.40 112.17,230.73 113.50,228.53 114.30,230.97 115.86,228.94 116.39,231.45 118.17,229.60 118.41,232.15 120.39,230.52 120.34,233.08 122.49,231.68 122.15,234.22 124.44,233.07 123.83,235.56 126.23,234.67 125.34,237.07 127.83,236.46 126.68,238.75 129.22,238.41 127.82,240.56 130.38,240.51 128.75,242.49 131.30,242.73 129.45,244.51 131.96,245.04 129.93,246.60 132.37,247.40 130.17,248.73" fill="#a9b9c0"/>
<line x1="80.0" y1="276.9" x2="29.4" y2="243.6" stroke="#222" stroke-width="0.65"/>
<polygon points="25.2,240.9 30.8,241.6 28.0,245.7" fill="#111"/>
<line x1="80.0" y1="276.9" x2="126.0" y2="237.1" stroke="#222" stroke-width="0.65"/>
<polygon points="129.8,233.8 127.7,239.0 124.4,235.2" fill="#111"/>
<text x="15.7" y="225.7" font-size="10" textLength="10.7" lengthAdjust="spacingAndGlyphs">(<tspan font-weight="bold">e</tspan>)</text>
<text x="33.4" y="244.5" font-size="9.80" text-anchor="start" font-weight="normal" textLength="20.0" lengthAdjust="spacingAndGlyphs">150°</text>
<text x="106.1" y="239.3" font-size="9.80" text-anchor="start" font-weight="normal" textLength="15.0" lengthAdjust="spacingAndGlyphs">30°</text>
<text x="40.4" y="324.0" font-size="9.50" text-anchor="start" font-weight="normal" textLength="5.3" lengthAdjust="spacingAndGlyphs">φ</text>
<text x="51.0" y="324.0" font-size="9.50" text-anchor="start" font-weight="normal" textLength="5.2" lengthAdjust="spacingAndGlyphs">=</text>
<text x="60.5" y="324.0" font-size="9.50" text-anchor="start" font-weight="normal" textLength="28.2" lengthAdjust="spacingAndGlyphs">0.0838</text>
<text x="92.6" y="324.0" font-size="9.50" text-anchor="start" font-weight="normal" textLength="20.0" lengthAdjust="spacingAndGlyphs">[rad]</text>
<polygon points="59.30,439.75 56.97,440.79 59.17,442.08 56.74,442.85 58.78,444.38 56.28,444.87 58.13,446.62 55.59,446.83 57.24,448.77 54.69,448.70 56.11,450.82 53.59,450.46 54.76,452.72 52.29,452.08 53.21,454.46 50.83,453.54 51.47,456.01 49.21,454.84 49.57,457.36 47.45,455.94 47.52,458.49 45.58,456.84 45.37,459.38 43.62,457.53 43.13,460.03 41.60,457.99 40.83,460.42 39.54,458.22 38.50,460.55 37.46,458.22 36.17,460.42 35.40,457.99 33.87,460.03 33.38,457.53 31.63,459.38 31.42,456.84 29.48,458.49 29.55,455.94 27.43,457.36 27.79,454.84 25.53,456.01 26.17,453.54 23.79,454.46 24.71,452.08 22.24,452.72 23.41,450.46 20.89,450.82 22.31,448.70 19.76,448.77 21.41,446.83 18.87,446.62 20.72,444.87 18.22,444.38 20.26,442.85 17.83,442.08 20.03,440.79 17.70,439.75 20.03,438.71 17.83,437.42 20.26,436.65 18.22,435.12 20.72,434.63 18.87,432.88 21.41,432.67 19.76,430.73 22.31,430.80 20.89,428.68 23.41,429.04 22.24,426.78 24.71,427.42 23.79,425.04 26.17,425.96 25.53,423.49 27.79,424.66 27.43,422.14 29.55,423.56 29.48,421.01 31.42,422.66 31.63,420.12 33.38,421.97 33.87,419.47 35.40,421.51 36.17,419.08 37.46,421.28 38.50,418.95 39.54,421.28 40.83,419.08 41.60,421.51 43.13,419.47 43.62,421.97 45.37,420.12 45.58,422.66 47.52,421.01 47.45,423.56 49.57,422.14 49.21,424.66 51.47,423.49 50.83,425.96 53.21,425.04 52.29,427.42 54.76,426.78 53.59,429.04 56.11,428.68 54.69,430.80 57.24,430.73 55.59,432.67 58.13,432.88 56.28,434.63 58.78,435.12 56.74,436.65 59.17,437.42 56.97,438.71" fill="#a9b9c0"/>
<polygon points="93.80,460.60 91.47,461.64 93.67,462.93 91.24,463.70 93.28,465.23 90.78,465.72 92.63,467.47 90.09,467.68 91.74,469.62 89.19,469.55 90.61,471.67 88.09,471.31 89.26,473.57 86.79,472.93 87.71,475.31 85.33,474.39 85.97,476.86 83.71,475.69 84.07,478.21 81.95,476.79 82.02,479.34 80.08,477.69 79.87,480.23 78.12,478.38 77.63,480.88 76.10,478.84 75.33,481.27 74.04,479.07 73.00,481.40 71.96,479.07 70.67,481.27 69.90,478.84 68.37,480.88 67.88,478.38 66.13,480.23 65.92,477.69 63.98,479.34 64.05,476.79 61.93,478.21 62.29,475.69 60.03,476.86 60.67,474.39 58.29,475.31 59.21,472.93 56.74,473.57 57.91,471.31 55.39,471.67 56.81,469.55 54.26,469.62 55.91,467.68 53.37,467.47 55.22,465.72 52.72,465.23 54.76,463.70 52.33,462.93 54.53,461.64 52.20,460.60 54.53,459.56 52.33,458.27 54.76,457.50 52.72,455.97 55.22,455.48 53.37,453.73 55.91,453.52 54.26,451.58 56.81,451.65 55.39,449.53 57.91,449.89 56.74,447.63 59.21,448.27 58.29,445.89 60.67,446.81 60.03,444.34 62.29,445.51 61.93,442.99 64.05,444.41 63.98,441.86 65.92,443.51 66.13,440.97 67.88,442.82 68.37,440.32 69.90,442.36 70.67,439.93 71.96,442.13 73.00,439.80 74.04,442.13 75.33,439.93 76.10,442.36 77.63,440.32 78.12,442.82 79.87,440.97 80.08,443.51 82.02,441.86 81.95,444.41 84.07,442.99 83.71,445.51 85.97,444.34 85.33,446.81 87.71,445.89 86.79,448.27 89.26,447.63 88.09,449.89 90.61,449.53 89.19,451.65 91.74,451.58 90.09,453.52 92.63,453.73 90.78,455.48 93.28,455.97 91.24,457.50 93.67,458.27 91.47,459.56" fill="#a9b9c0"/>
<polygon points="132.80,449.60 130.47,450.64 132.67,451.93 130.24,452.70 132.28,454.23 129.78,454.72 131.63,456.47 129.09,456.68 130.74,458.62 128.19,458.55 129.61,460.67 127.09,460.31 128.26,462.57 125.79,461.93 126.71,464.31 124.33,463.39 124.97,465.86 122.71,464.69 123.07,467.21 120.95,465.79 121.02,468.34 119.08,466.69 118.87,469.23 117.12,467.38 116.63,469.88 115.10,467.84 114.33,470.27 113.04,468.07 112.00,470.40 110.96,468.07 109.67,470.27 108.90,467.84 107.37,469.88 106.88,467.38 105.13,469.23 104.92,466.69 102.98,468.34 103.05,465.79 100.93,467.21 101.29,464.69 99.03,465.86 99.67,463.39 97.29,464.31 98.21,461.93 95.74,462.57 96.91,460.31 94.39,460.67 95.81,458.55 93.26,458.62 94.91,456.68 92.37,456.47 94.22,454.72 91.72,454.23 93.76,452.70 91.33,451.93 93.53,450.64 91.20,449.60 93.53,448.56 91.33,447.27 93.76,446.50 91.72,444.97 94.22,444.48 92.37,442.73 94.91,442.52 93.26,440.58 95.81,440.65 94.39,438.53 96.91,438.89 95.74,436.63 98.21,437.27 97.29,434.89 99.67,435.81 99.03,433.34 101.29,434.51 100.93,431.99 103.05,433.41 102.98,430.86 104.92,432.51 105.13,429.97 106.88,431.82 107.37,429.32 108.90,431.36 109.67,428.93 110.96,431.13 112.00,428.80 113.04,431.13 114.33,428.93 115.10,431.36 116.63,429.32 117.12,431.82 118.87,429.97 119.08,432.51 121.02,430.86 120.95,433.41 123.07,431.99 122.71,434.51 124.97,433.34 124.33,435.81 126.71,434.89 125.79,437.27 128.26,436.63 127.09,438.89 129.61,438.53 128.19,440.65 130.74,440.58 129.09,442.52 131.63,442.73 129.78,444.48 132.28,444.97 130.24,446.50 132.67,447.27 130.47,448.56" fill="#a9b9c0"/>
<line x1="72.5" y1="460.6" x2="25.7" y2="429.4" stroke="#222" stroke-width="0.65"/>
<polygon points="21.5,426.6 27.0,427.3 24.3,431.5" fill="#111"/>
<line x1="72.5" y1="460.6" x2="127.6" y2="442.6" stroke="#222" stroke-width="0.65"/>
<polygon points="132.4,441.0 128.4,444.9 126.9,440.2" fill="#111"/>
<text x="16.8" y="415.0" font-size="10" textLength="10.1" lengthAdjust="spacingAndGlyphs">(<tspan font-weight="bold">f</tspan>)</text>
<text x="27.8" y="428.3" font-size="9.10" text-anchor="start" font-weight="normal" textLength="19.5" lengthAdjust="spacingAndGlyphs">150°</text>
<text x="114.8" y="442.6" font-size="9.50" text-anchor="start" font-weight="normal" textLength="13.6" lengthAdjust="spacingAndGlyphs">15°</text>
<text x="40.4" y="508.4" font-size="9.50" text-anchor="start" font-weight="normal" textLength="5.3" lengthAdjust="spacingAndGlyphs">φ</text>
<text x="51.0" y="508.4" font-size="9.50" text-anchor="start" font-weight="normal" textLength="5.2" lengthAdjust="spacingAndGlyphs">=</text>
<text x="60.5" y="508.4" font-size="9.50" text-anchor="start" font-weight="normal" textLength="28.2" lengthAdjust="spacingAndGlyphs">0.0942</text>
<text x="92.6" y="508.4" font-size="9.50" text-anchor="start" font-weight="normal" textLength="20.0" lengthAdjust="spacingAndGlyphs">[rad]</text>
</svg></body></html>
